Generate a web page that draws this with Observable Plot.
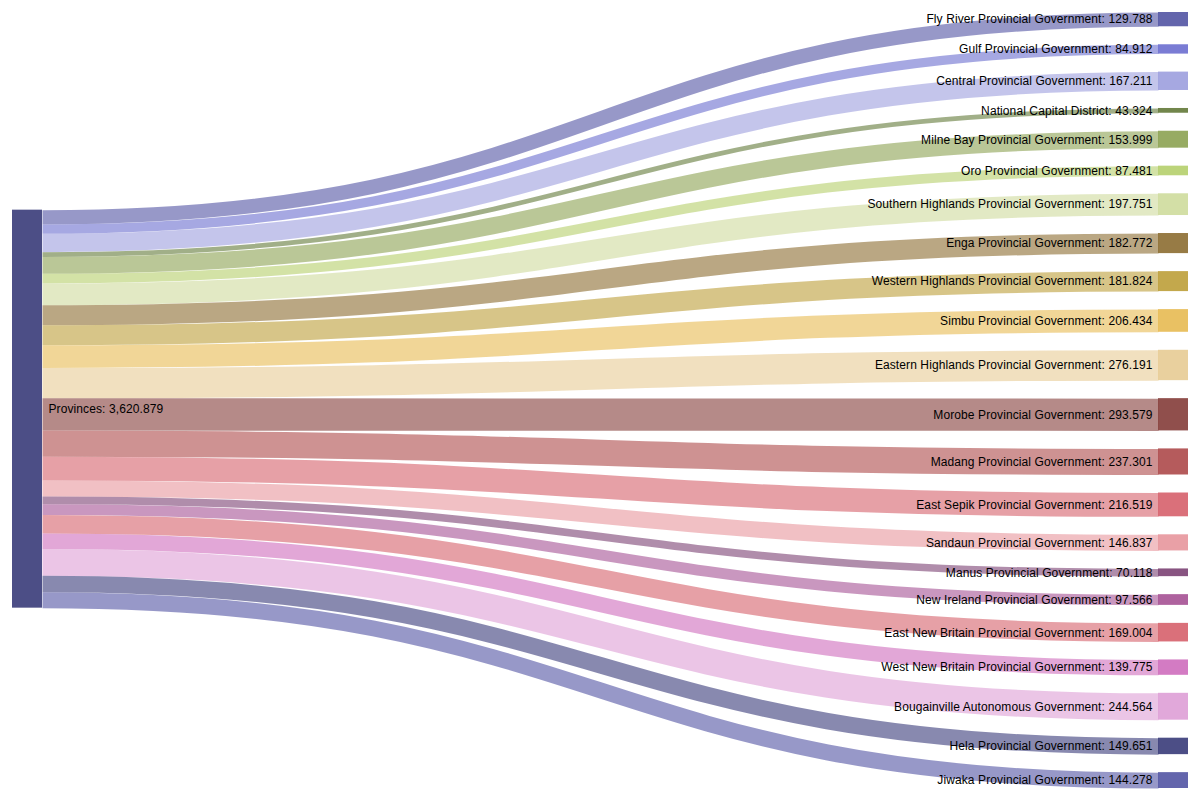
<!DOCTYPE html>
<html>
<head>
<meta charset="utf-8">
<script src="https://cdn.jsdelivr.net/npm/d3@7"></script>
<script src="https://cdn.jsdelivr.net/npm/@observablehq/plot@0.6"></script>
<style>
  html, body { margin: 0; padding: 0; background: #fff; }
  #chart svg { display: block; }
  #chart svg text { letter-spacing: 0.1px; }
</style>
</head>
<body>
<div id="chart"></div>
<script>
// ---- data ----
const sourceName = "Provinces";
const sourceColor = "#393b79";
const targets = [
  "Fly River Provincial Government",
  "Gulf Provincial Government",
  "Central Provincial Government",
  "National Capital District",
  "Milne Bay Provincial Government",
  "Oro Provincial Government",
  "Southern Highlands Provincial Government",
  "Enga Provincial Government",
  "Western Highlands Provincial Government",
  "Simbu Provincial Government",
  "Eastern Highlands Provincial Government",
  "Morobe Provincial Government",
  "Madang Provincial Government",
  "East Sepik Provincial Government",
  "Sandaun Provincial Government",
  "Manus Provincial Government",
  "New Ireland Provincial Government",
  "East New Britain Provincial Government",
  "West New Britain Provincial Government",
  "Bougainville Autonomous Government",
  "Hela Provincial Government",
  "Jiwaka Provincial Government"
];
const values = [
  129.788, 84.912, 167.211, 43.324, 153.999, 87.481, 197.751, 182.772,
  181.824, 206.434, 276.191, 293.579, 237.301, 216.519, 146.837, 70.118,
  97.566, 169.004, 139.775, 244.564, 149.651, 144.278
];
const targetColors = [
  "#5254a3", "#6b6ecf", "#9c9ede", "#637939", "#8ca252", "#b5cf6b", "#cedb9c",
  "#8c6d31", "#bd9e39", "#e7ba52", "#e7cb94", "#843c39", "#ad494a", "#d6616b",
  "#e7969c", "#7b4173", "#a55194", "#d6616b", "#ce6dbd", "#de9ed6", "#393b79",
  "#5254a3"
];

// ---- layout (sankey-style, in value units) ----
const TOP = 12, BOTTOM = 788, PAD = 18, NODE_W_PX = 30;
const X_LEFT = 12, X_RIGHT = 1158;
const n = targets.length;
const total = d3.sum(values);
const ky = (BOTTOM - TOP - PAD * (n - 1)) / total;   // px per unit
const padU = PAD / ky;                                  // padding in value units
const extentU = total + padU * (n - 1);
const nodeW = NODE_W_PX / (X_RIGHT - X_LEFT);           // node width in x units

const rightNodes = [];
let acc = 0;
targets.forEach((name, i) => {
  const y0 = acc + i * padU;
  rightNodes.push({name, value: values[i], color: targetColors[i], x1: 1, x2: 1 + nodeW, y1: y0, y2: y0 + values[i]});
  acc += values[i];
});
// source position: value-weighted alignment with its targets
const srcTop = padU * d3.sum(values, (v, i) => v * i) / total;
const leftNode = {name: sourceName, value: total, color: sourceColor, x1: 0, x2: nodeW, y1: srcTop, y2: srcTop + total};

const links = [];
let sAcc = srcTop;
rightNodes.forEach(t => {
  links.push({value: t.value, color: t.color, sy: sAcc + t.value / 2, ty: (t.y1 + t.y2) / 2});
  sAcc += t.value;
});

const fmt = d3.format(",.3f");
const nodes = [leftNode, ...rightNodes];

const chart = Plot.plot({
  width: 1200,
  height: 800,
  margin: 0,
  style: {fontFamily: "'Liberation Sans', Arial, sans-serif", background: "#fff"},
  x: {domain: [0, 1], range: [X_LEFT, X_RIGHT], axis: null},
  y: {domain: [0, extentU], range: [TOP, BOTTOM], axis: null},
  color: {type: "identity"},
  marks: [
    Plot.link(links, {
      x1: () => nodeW, y1: "sy", x2: () => 1, y2: "ty",
      curve: "bump-x",
      stroke: "color",
      strokeOpacity: 0.6,
      strokeWidth: d => Math.max(1, d.value * ky)
    }),
    Plot.rect(nodes, {x1: "x1", x2: "x2", y1: "y1", y2: "y2", fill: "color", fillOpacity: 0.9}),
    Plot.text(rightNodes, {
      x: "x1", y: d => (d.y1 + d.y2) / 2, dx: -6,
      text: d => `${d.name}: ${fmt(d.value)}`,
      textAnchor: "end", fontSize: 12, fill: "#000"
    }),
    Plot.text([leftNode], {
      x: "x2", y: d => (d.y1 + d.y2) / 2, dx: 6,
      text: d => `${d.name}: ${fmt(d.value)}`,
      textAnchor: "start", fontSize: 12, fill: "#000"
    })
  ]
});
document.getElementById("chart").appendChild(chart);
</script>
</body>
</html>
